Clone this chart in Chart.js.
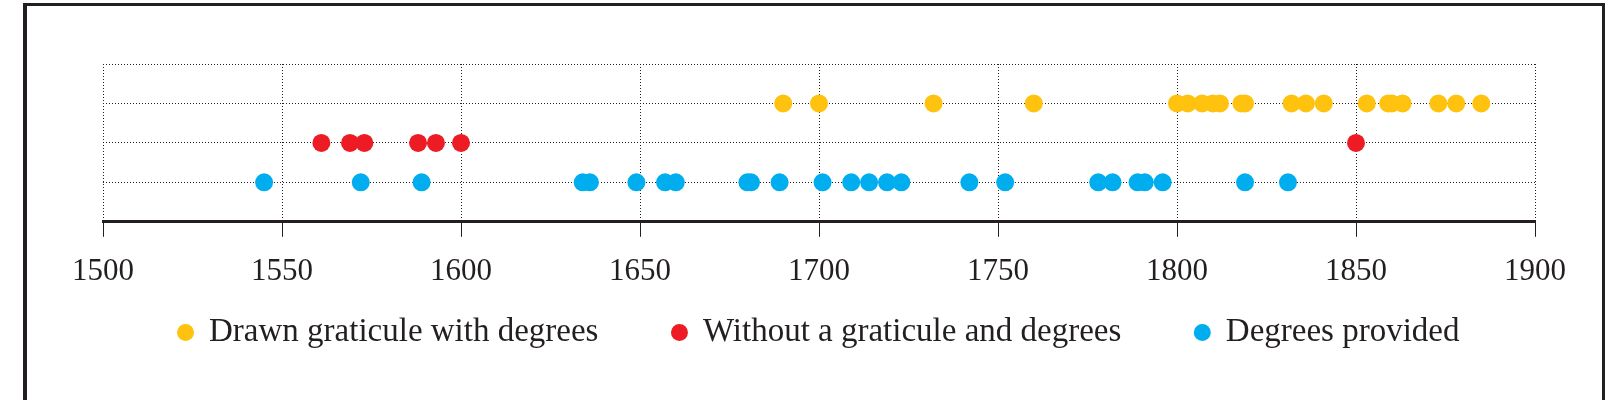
<!DOCTYPE html>
<html lang="en">
<head>
    <meta charset="UTF-8">
    <title>Graticule timeline</title>
    <script src="https://cdn.jsdelivr.net/npm/chart.js"></script>
    <style>
        body { margin: 0; background: #fff; }
        .frame {
            position: absolute; left: 23px; top: 3px; width: 1582px; height: 500px;
            box-sizing: border-box; border: 3px solid #231f20; border-left-width: 4px; border-bottom: none;
        }
        #timeline { position: absolute; left: 0; top: 0; }
    </style>
</head>
<body>
    <div class="frame"></div>
    <canvas id="timeline" width="1609" height="400"></canvas>

    <script>
        // years, one list per category
        const seriesNames = ['Drawn graticule with degrees', 'Without a graticule and degrees', 'Degrees provided'];
        const seriesColors = ['#ffc20e', '#ed1c24', '#00aeef'];
        const rowLevels = [3, 2, 1];

        const graticuleYears = [1690, 1700, 1732, 1760, 1800, 1803, 1807, 1810, 1812, 1818, 1819,
            1832, 1836, 1841, 1853, 1859, 1860, 1863, 1873, 1878, 1885];
        const noGraticuleYears = [1561, 1569, 1573, 1588, 1593, 1600, 1850];
        const degreesYears = [1545, 1572, 1589, 1634, 1636, 1649, 1657, 1660, 1680, 1681, 1689,
            1701, 1709, 1714, 1719, 1723, 1742, 1752, 1778, 1782, 1789, 1791, 1796, 1819, 1831];

        const yearTicks = [1500, 1550, 1600, 1650, 1700, 1750, 1800, 1850, 1900];

        const ink = '#231f20';
        const serif = 'Liberation Serif';

        const yearLists = [graticuleYears, noGraticuleYears, degreesYears];
        const datasets = yearLists.map((list, i) => ({
            label: seriesNames[i],
            data: list.map(yr => ({ x: yr, y: rowLevels[i] })),
            backgroundColor: seriesColors[i],
            borderColor: seriesColors[i],
            borderWidth: 0,
            pointRadius: 9,
            pointHoverRadius: 9,
            pointStyle: 'circle'
        }));

        // legend padding is also the gap between items, which is wide here;
        // stretch the legend box upwards so the row sits just under the tick labels
        const legendLift = {
            id: 'legendLift',
            afterLayout(chart) {
                chart.legend.top -= 64;
            }
        };

        new Chart(document.getElementById('timeline'), {
            type: 'scatter',
            data: { datasets: datasets },
            plugins: [legendLift],
            options: {
                responsive: false,
                animation: false,
                layout: { padding: { left: 103, right: 74, top: 64, bottom: 24 } },
                plugins: {
                    tooltip: { enabled: false },
                    legend: {
                        position: 'bottom',
                        maxHeight: 70,
                        labels: {
                            usePointStyle: true,
                            boxWidth: 14,
                            boxHeight: 12,
                            padding: 74,
                            color: ink,
                            font: { family: serif, size: 33 }
                        }
                    }
                },
                scales: {
                    x: {
                        type: 'linear',
                        min: 1500,
                        max: 1900,
                        afterBuildTicks: s => { s.ticks = yearTicks.map(v => ({ value: v })); },
                        ticks: {
                            color: ink,
                            padding: 16,
                            maxRotation: 0,
                            autoSkip: false,
                            font: { family: serif, size: 31 },
                            callback: v => String(v)
                        },
                        grid: {
                            color: ink,
                            lineWidth: 1,
                            tickLength: 15,
                            tickColor: ink,
                            tickWidth: 1,
                            tickBorderDash: []
                        },
                        border: { display: true, color: ink, width: 3, dash: [1, 2] }
                    },
                    y: {
                        min: 0,
                        max: 4,
                        afterFit: s => { s.width = 0; },
                        ticks: { display: false, stepSize: 1 },
                        grid: { color: ink, lineWidth: 1, drawTicks: false },
                        border: { display: false, dash: [1, 2] }
                    }
                }
            }
        });
    </script>
</body>
</html>
